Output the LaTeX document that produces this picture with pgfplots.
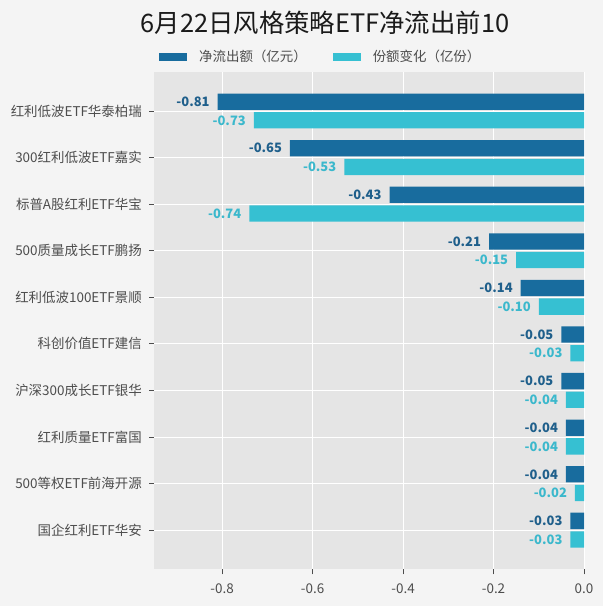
\documentclass[border=0pt]{standalone}
\usepackage{fontspec}
\setmainfont{Noto Sans CJK SC}
\usepackage{pgfplots}
\pgfplotsset{compat=1.18}
\definecolor{bgc}{HTML}{F4F4F4}
\definecolor{panel}{HTML}{E5E5E5}
\definecolor{darkbar}{HTML}{186C9E}
\definecolor{lightbar}{HTML}{36C0D2}
\definecolor{darklab}{HTML}{1F5F8B}
\definecolor{lightlab}{HTML}{3BB8CC}
\definecolor{labc}{HTML}{4D4D4D}
\definecolor{titlec}{HTML}{1A1A1A}
\begin{document}
\begin{tikzpicture}
\fill[bgc] (0,0) rectangle (603bp,606bp);
\node[font=\fontsize{25.5}{29}\selectfont, text=titlec] at (325bp,583bp) {6月22日风格策略ETF净流出前10};
\begin{axis}[
  at={(154.3bp,36.7bp)}, anchor=south west,
  scale only axis, width=429.7bp, height=497.6bp,
  xmin=-0.95, xmax=0, ymin=-0.844, ymax=9.84, y dir=reverse,
  axis background/.style={fill=panel},
  axis line style={draw=none},
  grid=major, major grid style={white, line width=1bp},
  xtick={-0.8,-0.6,-0.4,-0.2,0},
  ytick={0,1,2,3,4,5,6,7,8,9},
  yticklabels={红利低波ETF华泰柏瑞,300红利低波ETF嘉实,标普A股红利ETF华宝,500质量成长ETF鹏扬,红利低波100ETF景顺,科创价值ETF建信,沪深300成长ETF银华,红利质量ETF富国,500等权ETF前海开源,国企红利ETF华安},
  xtick pos=bottom, ytick pos=left,
  tick align=outside, major tick length=5bp,
  tick style={draw=labc, line width=0.8bp},
  ticklabel style={text=labc, font=\fontsize{13.5}{15}\selectfont},
  yticklabel style={xshift=-4bp},
  /pgf/number format/assume math mode=true,
  xticklabel style={yshift=-6bp, /pgf/number format/.cd, fixed, fixed zerofill, precision=1},
  legend columns=2,
  legend style={at={(axis description cs:0.011,1.030)}, anchor=west, draw=none, fill=none,
    inner sep=0pt, text=labc, font=\fontsize{13.5}{15}\selectfont,
    /tikz/every even column/.append style={column sep=24bp}},
]
\addplot[xbar, bar width=0.35, bar shift=-0.2, fill=darkbar, draw=none,
  legend image code/.code={\fill[darkbar] (0bp,-4bp) rectangle (28bp,4bp); \path (38bp,0bp);},
  point meta=x, nodes near coords={\pgfmathprintnumber[fixed,fixed zerofill,precision=2]{\pgfplotspointmeta}},
  nodes near coords style={anchor=east, xshift=-4.5bp, yshift=9.3bp, text=darklab, font=\bfseries\fontsize{13}{15}\selectfont}]
  coordinates {(-0.81,0) (-0.65,1) (-0.43,2) (-0.21,3) (-0.14,4) (-0.05,5) (-0.05,6) (-0.04,7) (-0.04,8) (-0.03,9)};
\addplot[xbar, bar width=0.35, bar shift=0.2, fill=lightbar, draw=none,
  legend image code/.code={\fill[lightbar] (0bp,-4bp) rectangle (28bp,4bp); \path (38bp,0bp);},
  point meta=x, nodes near coords={\pgfmathprintnumber[fixed,fixed zerofill,precision=2]{\pgfplotspointmeta}},
  nodes near coords style={anchor=east, xshift=-4.5bp, yshift=-9.3bp, text=lightlab, font=\bfseries\fontsize{13}{15}\selectfont}]
  coordinates {(-0.73,0) (-0.53,1) (-0.74,2) (-0.15,3) (-0.10,4) (-0.03,5) (-0.04,6) (-0.04,7) (-0.02,8) (-0.03,9)};
\legend{净流出额（亿元）,份额变化（亿份）}
\end{axis}
\end{tikzpicture}
\end{document}
